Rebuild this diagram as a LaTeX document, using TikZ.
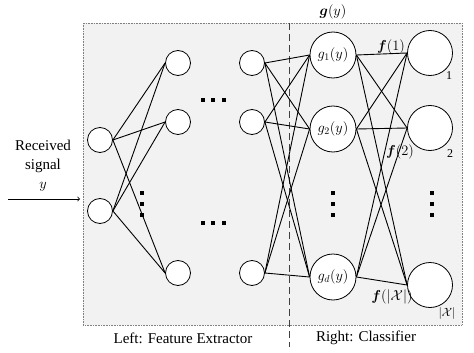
\documentclass[tikz,border=0pt]{standalone}
\usepackage{fontspec}
\setmainfont{Liberation Serif}
\usepackage{bm}
\begin{document}
\begin{tikzpicture}[x=1pt,y=-1pt,
    neuron/.style={circle, draw, fill=white, line width=0.8pt, minimum size=25pt, inner sep=0pt},
    gnode/.style={neuron, minimum size=46pt, font=\fontsize{14}{16}\selectfont},
    outnode/.style={neuron, minimum size=45pt},
    link/.style={line width=0.9pt},
    lbl/.style={font=\fontsize{15}{17}\selectfont, inner sep=0pt},
    small/.style={font=\fontsize{12}{14}\selectfont, inner sep=0pt},
    caption/.style={font=\fontsize{15}{19}\selectfont, inner sep=0pt, align=center}]

    \useasboundingbox (0,0) rectangle (474,353);

    % background box and the split
    \draw[densely dotted, gray, fill=gray!10, line width=0.6pt] (83,23) rectangle (462,325);
    \draw[dash pattern=on 7pt off 4pt, black!75, line width=0.9pt] (289,23) -- (289,347);

    % layers of the feature extractor
    \foreach \i/\y in {1/140, 2/211}
        \node[neuron] (in\i) at (100,\y) {};
    \foreach \i/\y in {1/63, 2/122, 3/273} {
        \node[neuron] (h\i) at (178,\y) {};
        \node[neuron] (k\i) at (252,\y) {};
    }

    % classifier layers
    \node[gnode] (g1) at (333,55) {$g_1(y)$};
    \node[gnode] (g2) at (333,129) {$g_2(y)$};
    \node[gnode] (g3) at (333,277) {$g_d(y)$};
    \foreach \i/\y in {1/53, 2/128, 3/285}
        \node[outnode] (o\i) at (430,\y) {};

    % connections
    \foreach \a in {1,2}
        \foreach \b in {1,2,3}
            \draw[link] (in\a.east) -- (h\b.west);
    \foreach \a in {1,2,3}
        \foreach \b in {1,2,3} {
            \draw[link] (k\a.east) -- (g\b.west);
            \draw[link] (g\a.east) -- (o\b.west);
        }

    % dots
    \foreach \x in {203,213,224} {
        \fill (\x,100) ++(-1.7,-1.7) rectangle ++(3.4,3.4);
        \fill (\x,223) ++(-1.7,-1.7) rectangle ++(3.4,3.4);
    }
    \foreach \y in {193,204,215} {
        \fill (142,\y) ++(-1.7,-1.7) rectangle ++(3.4,3.4);
        \fill (333,\y) ++(-1.7,-1.7) rectangle ++(3.4,3.4);
        \fill (432,\y) ++(-1.7,-1.7) rectangle ++(3.4,3.4);
    }

    % input signal
    \node[caption] (sig) at (43,166) {Received\\signal\\$y$};
    \coordinate (sigstart) at (8,199);
    \coordinate (sigend) at (80,199);
    \draw[->, line width=0.8pt] (sigstart) -- (sigend);

    % labels
    \node[lbl] (gy) at (333,12) {$\bm{g}(y)$};
    \node[lbl] (f1) at (391,47) {$\bm{f}(1)$};
    \node[lbl] (f2) at (400,152) {$\bm{f}(2)$};
    \node[lbl] (fx) at (392,297) {$\bm{f}(|\mathcal{X}|)$};
    \node[small] (n1) at (449,76) {1};
    \node[small] (n2) at (450,154) {2};
    \node[small] (nx) at (447,313) {$|\mathcal{X}|$};

    \node[caption] (left) at (183,338) {Left: Feature Extractor};
    \node[caption] (right) at (366,338) {Right: Classifier};

\end{tikzpicture}
\end{document}
